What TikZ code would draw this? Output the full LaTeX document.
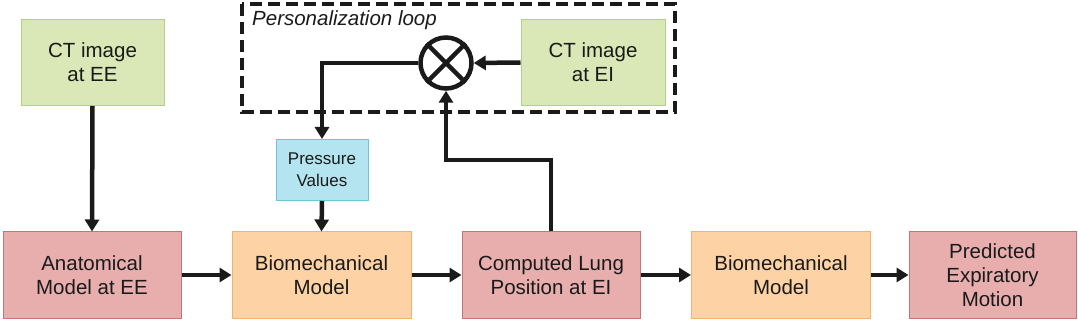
\documentclass[tikz,border=0pt]{standalone}
\usepackage{fontspec}
\setmainfont{Liberation Sans}
\usetikzlibrary{arrows.meta}
\definecolor{gfill}{HTML}{D9E8B6}
\definecolor{gdraw}{HTML}{B4CF8A}
\definecolor{pfill}{HTML}{E8AEAE}
\definecolor{pdraw}{HTML}{C97472}
\definecolor{ofill}{HTML}{FDD3A6}
\definecolor{odraw}{HTML}{F4B36C}
\definecolor{bfill}{HTML}{B4E4EF}
\definecolor{bdraw}{HTML}{6FC6D8}
\definecolor{ink}{HTML}{1A1A1A}
\tikzset{
  box/.style={draw, line width=1pt, minimum height=86pt, align=center, inner sep=0pt,
    text=ink, font=\fontsize{20.5}{24}\selectfont},
  greenbox/.style={box, fill=gfill, draw=gdraw},
  pinkbox/.style={box, fill=pfill, draw=pdraw},
  orangebox/.style={box, fill=ofill, draw=odraw},
  bluebox/.style={box, fill=bfill, draw=bdraw, minimum height=61pt, minimum width=92pt,
    font=\fontsize{17}{22}\selectfont},
  conn/.style={draw=ink, line width=4.5pt, -{Triangle[length=12pt,width=14pt]}},
}
\begin{document}
\begin{tikzpicture}[x=1pt,y=-1pt]
\useasboundingbox (0,0) rectangle (1078,320);
% dashed loop box
\draw[ink, line width=4.5pt, dash pattern=on 12pt off 6pt] (242,4) rectangle (675,112);
\node[anchor=west, inner sep=0pt, text=ink, font=\fontsize{20.5}{24}\selectfont\itshape] (loop) at (252,20) {Personalization loop};
% nodes
\node[greenbox, minimum width=143pt] (ctee) at (92.5,62.5) {CT image\\at EE};
\node[greenbox, minimum width=144pt] (ctei) at (593,62.5) {CT image\\at EI};
\node[bluebox] (pres) at (322,170) {Pressure\\Values};
\node[pinkbox, minimum width=178pt] (anat) at (92,275) {Anatomical\\Model at EE};
\node[orangebox, minimum width=179pt] (bio1) at (321.5,275) {Biomechanical\\Model};
\node[pinkbox, minimum width=178pt] (comp) at (551,275) {Computed Lung\\Position at EI};
\node[orangebox, minimum width=179pt] (bio2) at (781,275) {Biomechanical\\Model};
\node[pinkbox, minimum width=167pt] (pred) at (992.5,275) {Predicted\\Expiratory\\Motion};
% comparator
\node[draw=ink, circle, line width=4.5pt, minimum size=51pt, inner sep=0pt] (cmp) at (446,63) {};
\draw[ink, line width=4.5pt] (cmp.north east) -- (cmp.south west);
\draw[ink, line width=4.5pt] (cmp.north west) -- (cmp.south east);
% connectors
\draw[conn] (ctee.south) -- (anat.north);
\draw[conn] (anat.east) -- (bio1.west);
\draw[conn] (bio1.east) -- (comp.west);
\draw[conn] (comp.east) -- (bio2.west);
\draw[conn] (bio2.east) -- (pred.west);
\draw[conn] (pres.south) -- (bio1.north);
\draw[conn] (ctei.west) -- (cmp.east);
\draw[conn] (cmp.west) -| (pres.north);
\draw[conn] (comp.north) |- (446,160) -- (cmp.south);
\end{tikzpicture}
\end{document}
